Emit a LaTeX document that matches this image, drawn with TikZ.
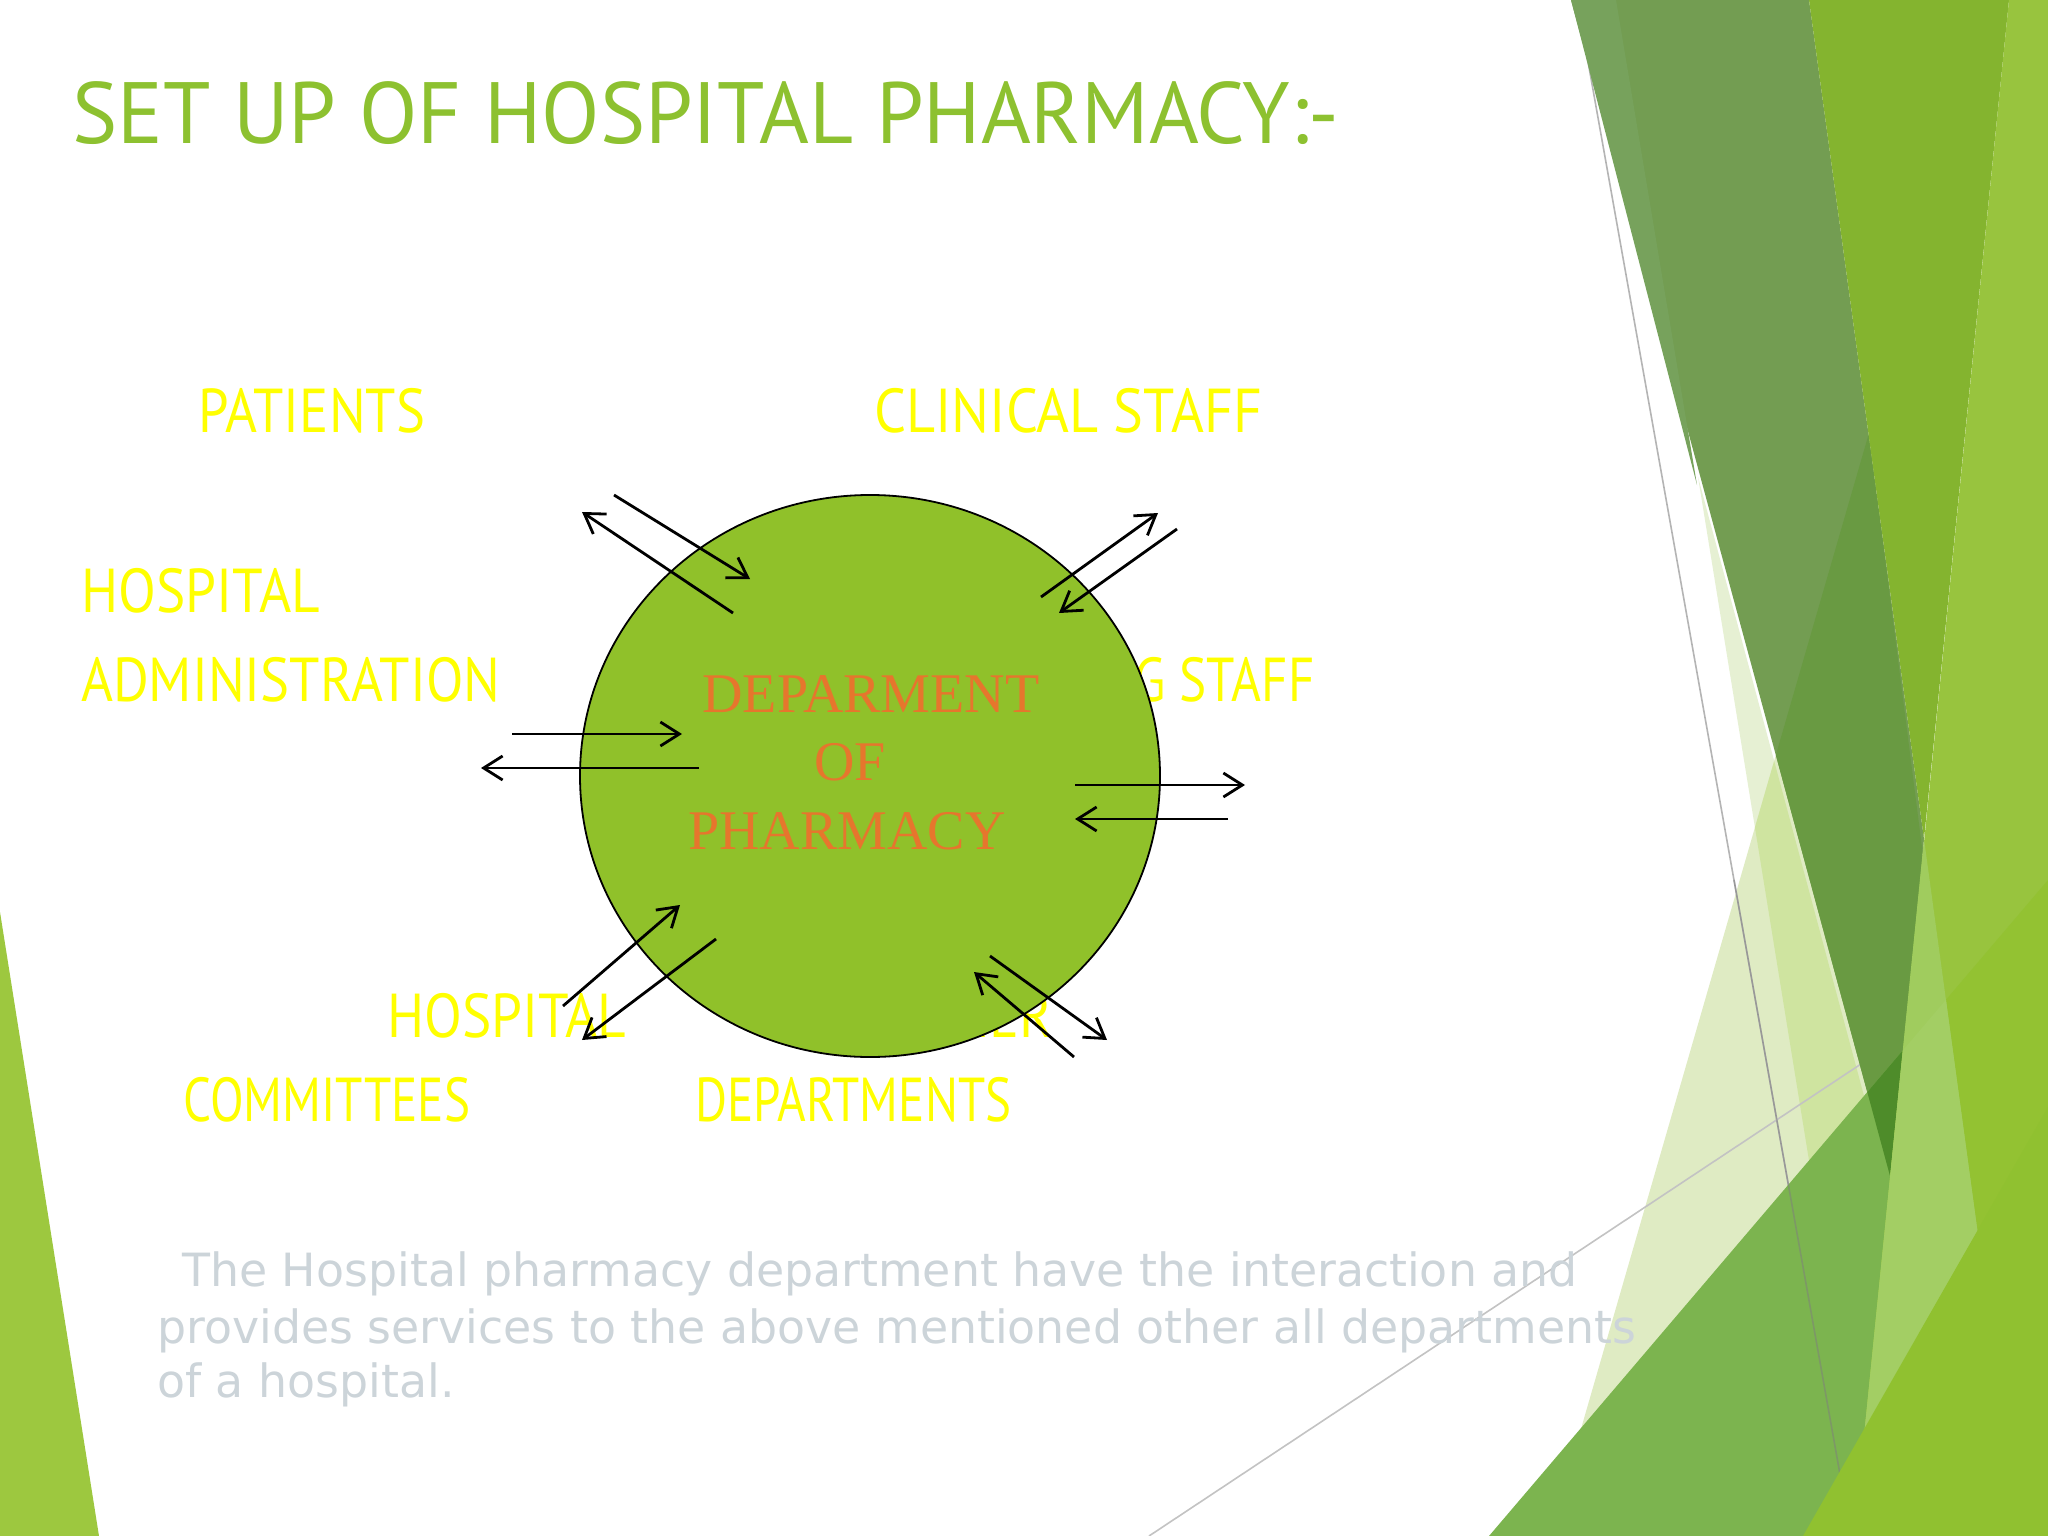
\documentclass[tikz,border=0pt]{standalone}
\usepackage{fontspec}
\setmainfont{PT Sans}
\newfontfamily\labfont[FakeStretch=0.9]{PT Sans}
\newfontfamily\titfont[FakeStretch=0.98]{PT Sans}
\newfontfamily\serfont{Liberation Serif}
\newfontfamily\bodyfont{DejaVu Sans}
\usetikzlibrary{arrows.meta,shapes.geometric}
\definecolor{titgreen}{RGB}{141,193,48}
\definecolor{labyel}{RGB}{255,255,0}
\definecolor{orng}{RGB}{230,118,45}
\definecolor{bodygray}{RGB}{204,212,217}
\definecolor{circfill}{RGB}{144,193,42}
\definecolor{leftgreen}{RGB}{157,200,63}
\definecolor{palestrip}{RGB}{230,240,211}
\definecolor{paletri}{RGB}{223,235,195}
\definecolor{paleboth}{RGB}{207,228,160}
\definecolor{darkol}{RGB}{115,157,82}
\definecolor{darkollt}{RGB}{119,162,92}
\definecolor{darkpale}{RGB}{105,154,66}
\definecolor{gone}{RGB}{132,180,47}
\definecolor{medgreen}{RGB}{124,180,79}
\definecolor{meddark}{RGB}{78,140,42}
\definecolor{gtwo}{RGB}{152,196,62}
\definecolor{gtwomed}{RGB}{147,194,50}
\definecolor{gtwolt}{RGB}{160,204,94}
\definecolor{gtwoltmed}{RGB}{163,206,100}
\definecolor{brightg}{RGB}{144,193,48}
\definecolor{thinline}{RGB}{180,180,180}
\tikzset{
  lab/.style={text=labyel, font=\labfont\fontsize{62}{70}\selectfont, inner sep=0pt, anchor=base west},
  labe/.style={lab, anchor=base east},
  ctr/.style={text=orng, font=\serfont\fontsize{56}{64}\selectfont, inner sep=0pt, anchor=base},
  body/.style={text=bodygray, font=\bodyfont\fontsize{45.8}{54}\selectfont, inner sep=0pt, anchor=base west},
  arr/.style={-{Straight Barb[length=19pt,width=24pt]}, line width=2.8pt, black},
  thin/.style={draw=thinline, line width=1.6pt}
}
\newcommand{\fitw}[2]{\resizebox{#1pt}{\height}{#2}}
\begin{document}
\begin{tikzpicture}[x=1pt,y=-1pt]
\useasboundingbox (0,0) rectangle (2048,1536);
\fill[white] (0,0) rectangle (2048,1536);
% left decoration
\fill[leftgreen] (0,912) -- (99,1536) -- (0,1536) -- cycle;
% right decoration
\fill[palestrip] (1698,477) -- (1870,1536) -- (1982,1536) -- cycle;
\fill[paletri] (1869,433) -- (1550,1536) -- (2010,1536) -- cycle;
\begin{scope}
  \clip (1698,477) -- (1870,1536) -- (1982,1536) -- cycle;
  \fill[paleboth] (1869,433) -- (1550,1536) -- (2010,1536) -- cycle;
\end{scope}
\draw[thin] (1577,0) -- (1851,1536);
\draw[thin, draw=thinline!80] (1149,1536) -- (2048,940);
\fill[darkol] (1571,0) -- (1809,0) -- (1924,839) -- (1893,1187) -- cycle;
\fill[darkollt] (1571,0) -- (1616,0) -- (1697,485) -- cycle;
\begin{scope}
  \clip (1571,0) -- (1809,0) -- (1924,839) -- (1893,1187) -- cycle;
  \fill[darkpale] (1869,433) -- (1550,1536) -- (2010,1536) -- cycle;
\end{scope}
\fill[gone] (1809,0) -- (2009,0) -- (1924,839) -- cycle;
\fill[medgreen] (1489,1536) -- (2048,880) -- (2048,1536) -- cycle;
\begin{scope}
  \clip (1489,1536) -- (2048,880) -- (2048,1536) -- cycle;
  \fill[meddark] (1571,0) -- (1809,0) -- (1924,839) -- (1893,1187) -- cycle;
\end{scope}
\draw[thin, draw=thinline!70!black, opacity=0.5] (1734,880) -- (1851,1536);
\fill[gtwo] (2009,0) -- (2048,0) -- (2048,1536) -- (1854,1536) -- cycle;
\begin{scope}
  \clip (1489,1536) -- (2048,880) -- (2048,1536) -- cycle;
  \fill[gtwomed] (2009,0) -- (2048,0) -- (2048,1536) -- (1854,1536) -- cycle;
\end{scope}
\fill[gtwolt] (1924,839) -- (1854,1536) -- (2019,1536) -- cycle;
\begin{scope}
  \clip (1489,1536) -- (2048,880) -- (2048,1536) -- cycle;
  \fill[gtwoltmed] (1924,839) -- (1854,1536) -- (2019,1536) -- cycle;
\end{scope}
\fill[brightg] (1803,1536) -- (2048,1107) -- (2048,1536) -- cycle;
% title
\node[text=titgreen, font=\titfont\fontsize{87}{96}\selectfont, inner sep=0pt, anchor=base west] (title) at (72,144) {SET UP OF HOSPITAL PHARMACY:-};
% labels (some partly hidden by the circle)
\node[lab] (patients) at (198,432) {\fitw{227}{PATIENTS}};
\node[lab] (clinical) at (874,432) {\fitw{388}{CLINICAL STAFF}};
\node[lab] (hosp1) at (81,612) {\fitw{239}{HOSPITAL}};
\node[lab] (admin) at (81,701) {\fitw{419}{ADMINISTRATION}};
\node[labe] (nursing) at (1315,701) {\fitw{180}{G STAFF}};
\node[lab] (hosp2) at (387,1037) {\fitw{239}{HOSPITAL}};
\node[labe] (other) at (1053,1037) {OTHER};
\node[lab] (committees) at (183,1121) {\fitw{287}{COMMITTEES}};
\node[lab] (departments) at (695,1121) {\fitw{316}{DEPARTMENTS}};
% circle
\node[ellipse, draw=black, line width=1.8pt, fill=circfill, minimum width=580pt, minimum height=562pt, inner sep=0pt] (dept) at (870,776) {};
\node[ctr] (t1) at (871,712) {DEPARMENT};
\node[ctr] (t2) at (850,780) {OF};
\node[ctr] (t3) at (847,849) {PHARMACY};
% arrow end points
\coordinate (a1s) at (733,613); \coordinate (a1e) at (582,512);
\coordinate (a2s) at (614,495); \coordinate (a2e) at (750,579);
\coordinate (b1s) at (1041,597); \coordinate (b1e) at (1158,513);
\coordinate (b2s) at (1177,529); \coordinate (b2e) at (1059,613);
\coordinate (c1s) at (512,734); \coordinate (c1e) at (682,734);
\coordinate (c2s) at (699,768); \coordinate (c2e) at (481,768);
\coordinate (d1s) at (1075,785); \coordinate (d1e) at (1245,785);
\coordinate (d2s) at (1228,819); \coordinate (d2e) at (1075,819);
\coordinate (e1s) at (563,1006); \coordinate (e1e) at (680,905);
\coordinate (e2s) at (716,939); \coordinate (e2e) at (582,1040);
\coordinate (f1s) at (990,956); \coordinate (f1e) at (1107,1040);
\coordinate (f2s) at (1074,1057); \coordinate (f2e) at (974,972);
\foreach \p in {a1,a2,b1,b2,c1,c2,d1,d2,e1,e2,f1,f2}{\draw[arr] (\p s) -- (\p e);}
% body text
\node[body] (l1) at (182,1286) {The Hospital pharmacy department have the interaction and};
\node[body] (l2) at (157,1343) {provides services to the above mentioned other all departments};
\node[body] (l3) at (157,1397) {of a hospital.};
\end{tikzpicture}
\end{document}
